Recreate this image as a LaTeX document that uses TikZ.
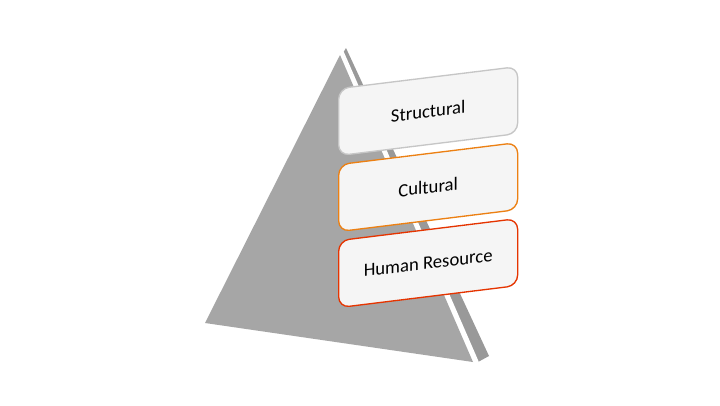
\documentclass[tikz,border=0pt]{standalone}
\usepackage{fontspec}
\setmainfont{Carlito}
\begin{document}
\begin{tikzpicture}[x=0.75pt,y=-0.75pt,
  layer/.style={draw, line width=1pt, rounded corners=8pt, fill=white!96!black, minimum width=179*0.75pt, minimum height=67*0.75pt, anchor=north west, transform shape, font=\fontsize{14}{16}\selectfont, inner sep=0pt}]
\useasboundingbox (0,0) rectangle (720,405);
\fill[white] (0,0) rectangle (720,405);
% pyramid
\fill[gray!70] (340,55) -- (205,323) -- (473,362) -- cycle;
\fill[gray!80] (346,48) -- (489,356) -- (478,362) -- (343,53) -- cycle;
\draw[white, line width=1.2pt] (343,52) -- (478,362);
% boxes
\begin{scope}[shift={(338,0)}, yslant=0.123]
  \node[layer, draw=gray!45] (s) at (0,88) {Structural};
  \node[layer, draw=orange!70!brown] (c) at (0,164) {Cultural};
  \node[layer, draw=red!55!orange!90!black] (h) at (0,240) {Human Resource};
\end{scope}
\end{tikzpicture}
\end{document}
